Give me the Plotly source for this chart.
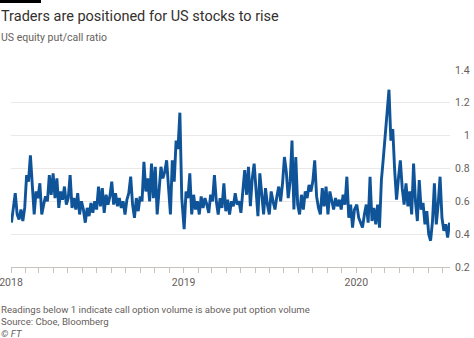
import pandas as pd
import plotly.graph_objects as go

# US equity put/call ratio, sampled every four days
ratio_2018 = [
    0.47, 0.58, 0.65, 0.52, 0.49, 0.55, 0.48, 0.56, 0.76, 0.72,
    0.88, 0.70, 0.52, 0.66, 0.62, 0.71, 0.52, 0.58, 0.63, 0.60,
    0.76, 0.64, 0.77, 0.62, 0.74, 0.56, 0.66, 0.61, 0.69, 0.58,
    0.62, 0.76, 0.56, 0.62, 0.55, 0.65, 0.52, 0.60, 0.55, 0.47,
    0.56, 0.51, 0.59, 0.53, 0.60, 0.55, 0.69, 0.57, 0.68, 0.53,
    0.64, 0.58, 0.63, 0.72, 0.58, 0.65, 0.57, 0.62, 0.56, 0.60,
    0.52, 0.61, 0.65, 0.75, 0.58, 0.50, 0.62, 0.54, 0.63, 0.60,
    0.84, 0.66, 0.74, 0.60, 0.83, 0.62, 0.81, 0.52, 0.66, 0.81,
    0.74, 0.78, 0.85, 0.66, 0.52, 0.85, 0.72, 0.97, 0.92, 1.14,
    0.62,
]
ratio_2019 = [
    0.43, 0.66, 0.62, 0.77, 0.52, 0.64, 0.55, 0.60, 0.52, 0.63,
    0.56, 0.62, 0.58, 0.53, 0.64, 0.60, 0.76, 0.60, 0.52, 0.62,
    0.56, 0.71, 0.54, 0.61, 0.52, 0.60, 0.57, 0.65, 0.58, 0.60,
    0.53, 0.68, 0.79, 0.64, 0.81, 0.57, 0.74, 0.83, 0.66, 0.51,
    0.77, 0.62, 0.52, 0.68, 0.58, 0.52, 0.66, 0.60, 0.55, 0.63,
    0.69, 0.60, 0.71, 0.87, 0.78, 0.62, 0.72, 0.97, 0.55, 0.87,
    0.58, 0.52, 0.64, 0.55, 0.66, 0.62, 0.70, 0.66, 0.72, 0.85,
    0.63, 0.56, 0.52, 0.68, 0.57, 0.69, 0.52, 0.66, 0.60, 0.55,
    0.62, 0.57, 0.61, 0.55, 0.64, 0.58, 0.75, 0.50, 0.58, 0.44,
    0.55,
]
ratio_2020 = [
    0.58, 0.50, 0.47, 0.44, 0.52, 0.58, 0.47, 0.75, 0.48, 0.56,
    0.46, 0.58, 0.44, 0.73, 0.86, 0.99, 1.14, 1.28, 0.97, 1.04,
    0.79, 0.61, 0.74, 0.85, 0.68, 0.58, 0.71, 0.57, 0.66, 0.52,
    0.83, 0.60, 0.48, 0.73, 0.55, 0.59, 0.46, 0.54, 0.40, 0.36,
    0.48, 0.71, 0.46, 0.58, 0.75, 0.50, 0.42, 0.46, 0.38, 0.47,
]
year_starts = ["2018-01-02", "2019-01-02", "2020-01-02"]

y_ticks = [0.2, 0.4, 0.6, 0.8, 1.0, 1.2, 1.4]
y_tick_labels = ["0.2", "0.4", "0.6", "0.8", "1", "1.2", "1.4"]
x_year_ticks = ["2018-01-01", "2019-01-01", "2020-01-01"]
x_year_labels = ["2018", "2019", "2020"]

title = "Traders are positioned for US stocks to rise"
subtitle = "US equity put/call ratio"
note = "Readings below 1 indicate call option volume is above put option volume"
source = "Source: Cboe, Bloomberg"
credit = "© FT"

dates = []
values = []
for start, vals in zip(year_starts, [ratio_2018, ratio_2019, ratio_2020]):
    dates.extend(pd.date_range(start, periods=len(vals), freq="4D"))
    values.extend(vals)

W, H = 474, 338
L, R, T, B = 11, 24, 70, 71
pw, ph = W - L - R, H - T - B


def px(x):
    return (x - L) / pw


def py(y):
    return (H - B - y) / ph


FONT = "Roboto"
GREY = "#66605c"

fig = go.Figure()
fig.add_trace(go.Scatter(
    x=dates, y=values, mode="lines",
    line=dict(color="#0f5499", width=2.9),
    hoverinfo="skip", showlegend=False,
))

annotations = [
    dict(text=title, x=px(0), y=py(16), font=dict(size=14.5, color="#33302e")),
    dict(text=subtitle, x=px(0), y=py(38), font=dict(size=10.5, color=GREY)),
    dict(text=note, x=px(0), y=py(309), font=dict(size=9.6, color=GREY)),
    dict(text=source, x=px(0), y=py(321), font=dict(size=9.6, color=GREY)),
    dict(text="<i>" + credit + "</i>", x=px(0), y=py(333), font=dict(size=9.6, color=GREY)),
]
for a in annotations:
    a.update(xref="paper", yref="paper", xanchor="left", yanchor="middle",
             showarrow=False, borderpad=0)
for v, lab in zip(y_ticks, y_tick_labels):
    annotations.append(dict(
        text=lab, x=px(471), y=v, xref="paper", yref="y",
        xanchor="right", yanchor="middle", showarrow=False, borderpad=0,
        font=dict(size=10.5, color=GREY),
    ))

fig.update_layout(
    width=W, height=H, autosize=False,
    margin=dict(l=L, r=R, t=T, b=B, pad=0, autoexpand=False),
    paper_bgcolor="white", plot_bgcolor="white",
    font=dict(family=FONT, color=GREY),
    annotations=annotations,
    shapes=[dict(type="rect", xref="paper", yref="paper",
                 x0=px(0), x1=px(41), y0=py(0), y1=py(3),
                 fillcolor="black", line=dict(width=0))],
    xaxis=dict(
        range=["2018-01-01", "2020-07-17"],
        tickvals=x_year_ticks, ticktext=x_year_labels,
        ticklabeloverflow="allow", automargin=False,
        ticks="outside", ticklen=5, tickcolor="#c6c2be", tickwidth=1,
        minor=dict(dtick="M1", ticks="outside", ticklen=5,
                   tickcolor="#c6c2be", tickwidth=1, showgrid=False),
        showline=True, linecolor="#c6c2be", linewidth=1,
        showgrid=False, zeroline=False,
        tickfont=dict(size=10.5, color=GREY),
    ),
    yaxis=dict(
        range=[0.2, 1.4], tickvals=y_ticks, showticklabels=False,
        showgrid=True, gridcolor="#ebe8e5", gridwidth=1,
        zeroline=False, showline=False, ticks="", automargin=False,
    ),
)

fig.write_html("out.html")
